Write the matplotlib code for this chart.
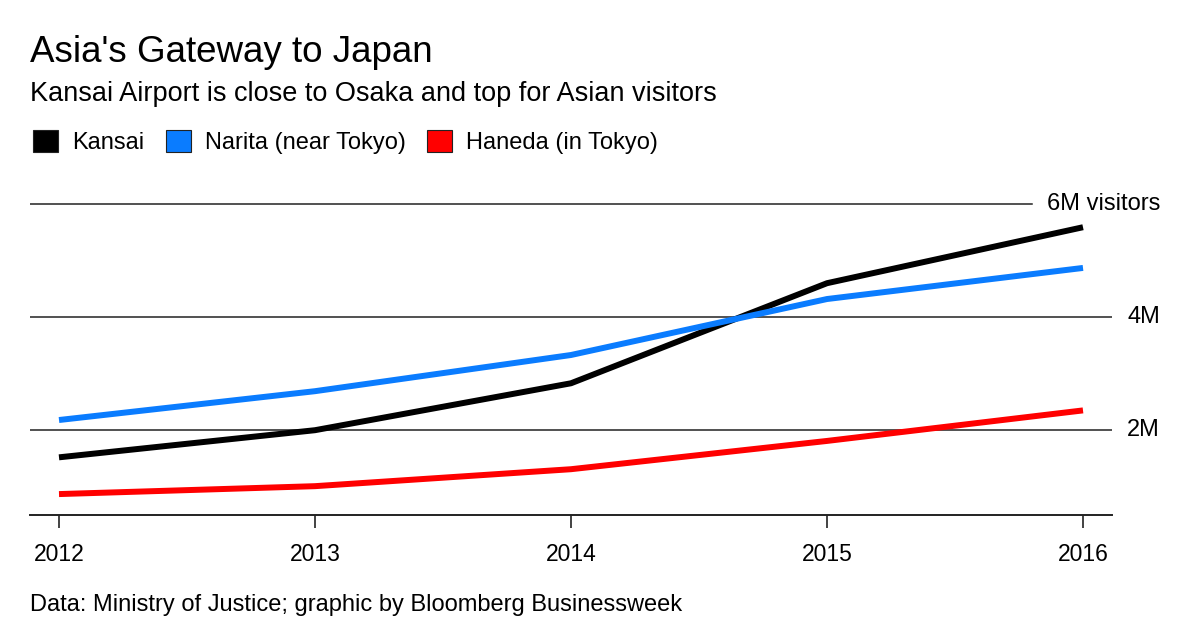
import numpy as np
import matplotlib
matplotlib.use("Agg")
from matplotlib import pyplot as plt
from matplotlib.patches import Patch

plt.rcParams['font.family'] = ['Liberation Sans', 'DejaVu Sans']

# Data (millions of visitors)
years = [2012, 2013, 2014, 2015, 2016]
kansai = [1.52, 2.00, 2.83, 4.60, 5.59]
narita = [2.18, 2.69, 3.33, 4.32, 4.87]
haneda = [0.87, 1.01, 1.31, 1.81, 2.35]
series_names = ['Kansai', 'Narita (near Tokyo)', 'Haneda (in Tokyo)']
series_colors = ['#000000', '#0a7cff', '#ff0000']
grid_values = [2, 4, 6]
grid_labels = ['2M', '4M', '6M visitors']

W, H = 1200, 637
fig = plt.figure(figsize=(W / 100, H / 100), dpi=100)
fig.patch.set_facecolor('white')

# axes placed in pixel terms
left, right, bottom, top = 30, 1112, 515, 195
ax = fig.add_axes([left / W, 1 - bottom / H, (right - left) / W, (bottom - top) / H])
ax.set_xlim(2012 - 29 / 256, 2016 + 29 / 256)
ax.set_ylim(0.5, 6.16)

for vals, name, col in zip([kansai, narita, haneda], series_names, series_colors):
    ax.plot(years, vals, color=col, lw=4.3, solid_capstyle='butt', zorder=3)

# gridlines with labels on the right
for v, lab in zip(grid_values, grid_labels):
    xmax = 1.0 if v != 6 else (1032 - left) / (right - left)
    ax.axhline(v, xmin=0, xmax=xmax, color='#222222', lw=1.1, zorder=1)
    ax.text((1160 - left) / (right - left), v, lab, transform=ax.get_yaxis_transform(),
            ha='right', va='center', fontsize=17, clip_on=False)

for s in ['top', 'right', 'left']:
    ax.spines[s].set_visible(False)
ax.spines['bottom'].set_color('#222222')
ax.spines['bottom'].set_linewidth(1.4)
ax.set_yticks([])
ax.set_xticks(years)
ax.set_xticklabels([str(y) for y in years], fontsize=16.5)
ax.tick_params(axis='x', length=9, width=1.2, color='#222222', pad=11)

# title, subtitle
fig.text(30 / W, 1 - 62 / H, "Asia's Gateway to Japan", fontsize=26.5, va='baseline', ha='left')
fig.text(30 / W, 1 - 101 / H, "Kansai Airport is close to Osaka and top for Asian visitors",
         fontsize=19.5, va='baseline', ha='left')

# legend
handles = [Patch(facecolor=c, edgecolor='#222222', lw=0.8) for c in series_colors]
fig.legend(handles, series_names, loc='upper left', bbox_to_anchor=(33 / W, 1 - 130 / H),
           ncol=3, frameon=False, fontsize=17, handlelength=1.06, handleheight=1.06,
           handletextpad=0.6, columnspacing=0.9, borderpad=0, borderaxespad=0)

# source
fig.text(30 / W, 1 - 611 / H, "Data: Ministry of Justice; graphic by Bloomberg Businessweek",
         fontsize=17, va='baseline', ha='left')

fig.savefig('out.png', dpi=100, facecolor='white')
